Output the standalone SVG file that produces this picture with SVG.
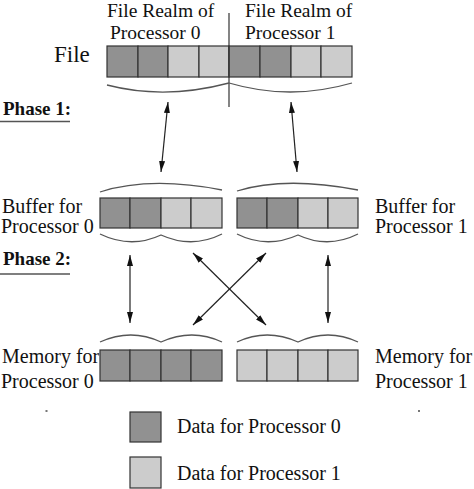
<svg xmlns="http://www.w3.org/2000/svg" width="474" height="489" viewBox="0 0 474 489">
<style>
text{font-family:"Liberation Serif","Times New Roman",serif;font-size:20px;fill:#111}
.t{font-size:19.5px}
.b{font-weight:bold;font-size:19px}
.d{fill:#919191;stroke:#333;stroke-width:1.2}
.l{fill:#cccccc;stroke:#333;stroke-width:1.2}
.br{fill:none;stroke:#555;stroke-width:1.3}
.ar{fill:none;stroke:#222;stroke-width:1.2;marker-start:url(#ah);marker-end:url(#ah)}
.ul{stroke:#555;stroke-width:1.3}
</style>
<defs>
<marker id="ah" viewBox="0 0 11 6" refX="11" refY="3" markerWidth="11" markerHeight="6" markerUnits="userSpaceOnUse" orient="auto-start-reverse">
<path d="M0,0 L11,3 L0,6 Z" fill="#111"/>
</marker>
</defs>
<rect width="474" height="489" fill="#fff"/>

<g id="file">
<text class="t" x="107" y="17">File Realm of</text>
<text class="t" x="110" y="39">Processor 0</text>
<text class="t" x="245" y="17">File Realm of</text>
<text class="t" x="245" y="39">Processor 1</text>
<text x="54" y="62" style="font-size:23px">File</text>
<rect class="d" x="107" y="46" width="31" height="31"/>
<rect class="d" x="138" y="46" width="30" height="31"/>
<rect class="l" x="168" y="46" width="31" height="31"/>
<rect class="l" x="199" y="46" width="30" height="31"/>
<rect class="d" x="229" y="46" width="31" height="31"/>
<rect class="d" x="260" y="46" width="31" height="31"/>
<rect class="l" x="291" y="46" width="30" height="31"/>
<rect class="l" x="321" y="46" width="31" height="31"/>
<line x1="229" y1="13" x2="229" y2="107" stroke="#333" stroke-width="1.2"/>
<path class="br" d="M107,85 Q165,100 229,83"/>
<path class="br" d="M229,83 Q290,101 352,83"/>
</g>

<g id="phase1">
<text class="b" x="3" y="115">Phase 1:</text>
<line class="ul" x1="0" y1="121.5" x2="70" y2="121.5"/>
</g>

<g id="buffer0">
<text x="2" y="213">Buffer for</text>
<text x="1" y="233">Processor 0</text>
<path class="br" d="M100,192 Q150,176 222,190"/>
<rect class="d" x="100" y="198" width="30" height="30"/>
<rect class="d" x="130" y="198" width="31" height="30"/>
<rect class="l" x="161" y="198" width="30" height="30"/>
<rect class="l" x="191" y="198" width="31" height="30"/>
<path class="br" d="M100,234 Q131,249 161,235 Q192,249 222,234"/>
</g>

<g id="buffer1">
<text x="375" y="213">Buffer for</text>
<text x="375" y="233">Processor 1</text>
<path class="br" d="M237,191 Q285,176 358,190"/>
<rect class="d" x="237" y="198" width="30" height="30"/>
<rect class="d" x="267" y="198" width="31" height="30"/>
<rect class="l" x="298" y="198" width="30" height="30"/>
<rect class="l" x="328" y="198" width="30" height="30"/>
<path class="br" d="M237,234 Q267,249 298,235 Q328,249 358,234"/>
</g>

<g id="phase2">
<text class="b" x="3" y="265">Phase 2:</text>
<line class="ul" x1="0" y1="274" x2="70" y2="274"/>
</g>

<g id="memory0">
<text x="2" y="363">Memory for</text>
<text x="1" y="388">Processor 0</text>
<path class="br" d="M100,342 Q131,328 161,342 Q192,328 222,342"/>
<rect class="d" x="100" y="350" width="30" height="31"/>
<rect class="d" x="130" y="350" width="31" height="31"/>
<rect class="d" x="161" y="350" width="30" height="31"/>
<rect class="d" x="191" y="350" width="31" height="31"/>
</g>

<g id="memory1">
<text x="375" y="363">Memory for</text>
<text x="375" y="388">Processor 1</text>
<path class="br" d="M237,342 Q267,328 298,342 Q328,328 358,342"/>
<rect class="l" x="237" y="350" width="30" height="31"/>
<rect class="l" x="267" y="350" width="31" height="31"/>
<rect class="l" x="298" y="350" width="30" height="31"/>
<rect class="l" x="328" y="350" width="30" height="31"/>
</g>

<g id="connectors">
<line class="ar" x1="168" y1="102" x2="161" y2="172"/>
<line class="ar" x1="291" y1="102" x2="297" y2="172"/>
<line class="ar" x1="130" y1="255" x2="130" y2="323"/>
<line class="ar" x1="328" y1="255" x2="328" y2="323"/>
<line class="ar" x1="193" y1="253" x2="266" y2="325"/>
<line class="ar" x1="266" y1="253" x2="193" y2="325"/>
</g>

<g id="marks">
<rect x="45.5" y="410" width="2" height="2" fill="#777"/>
<rect x="418" y="410" width="2" height="2" fill="#777"/>
</g>

<g id="legend">
<rect class="d" x="130" y="412" width="31" height="30"/>
<text x="177" y="433">Data for Processor 0</text>
<rect class="l" x="130" y="457" width="31" height="31"/>
<text x="177" y="480">Data for Processor 1</text>
</g>
</svg>
